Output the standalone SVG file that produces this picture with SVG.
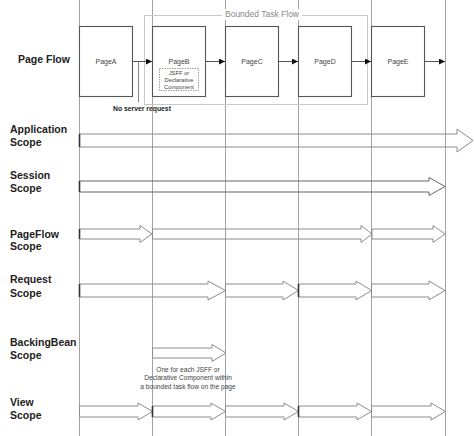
<svg xmlns="http://www.w3.org/2000/svg" width="474" height="436" viewBox="0 0 474 436">
<defs>
<style>
.vl{stroke:#a3a3a3;stroke-width:1;fill:none}
.arr{fill:none;stroke:#8c8c8c;stroke-width:1}
.tail{stroke:#333;stroke-width:1.6}
.lbl{font-family:"Liberation Sans",Arial,sans-serif;font-size:10.5px;font-weight:bold;fill:#222}
.page{fill:#fff;stroke:#555;stroke-width:1.1}
.ptxt{font-family:"Liberation Sans",Arial,sans-serif;font-size:7px;fill:#444;text-anchor:middle}
.small{font-family:"Liberation Sans",Arial,sans-serif;font-size:5.8px;fill:#444;text-anchor:middle}
.note{font-family:"Liberation Sans",Arial,sans-serif;font-size:6.6px;fill:#444;text-anchor:middle}
.conn{stroke:#555;stroke-width:1;fill:none}
</style>
<marker id="ah" viewBox="0 0 10 10" refX="10" refY="5" markerWidth="6" markerHeight="6" markerUnits="userSpaceOnUse" orient="auto">
<path d="M0,0 L10,5 L0,10 Z" fill="#111"/>
</marker>
</defs>
<rect width="474" height="436" fill="#fff"/>

<g id="grid">
<line class="vl" x1="79.5" y1="0" x2="79.5" y2="436"/>
<line class="vl" x1="152.5" y1="0" x2="152.5" y2="436"/>
<line class="vl" x1="225.5" y1="0" x2="225.5" y2="436"/>
<line class="vl" x1="298.5" y1="0" x2="298.5" y2="436"/>
<line class="vl" x1="371.5" y1="0" x2="371.5" y2="436"/>
<line class="vl" x1="445.5" y1="0" x2="445.5" y2="436"/>
</g>

<g id="bounded-task-flow">
<rect x="144.5" y="15.5" width="223" height="89" fill="none" stroke="#c8c8c8" stroke-width="1"/>
<rect x="222" y="9" width="80" height="11" fill="#fff"/>
<text x="262" y="17" font-family="'Liberation Sans',Arial,sans-serif" font-size="8.5" fill="#888" text-anchor="middle">Bounded Task Flow</text>
</g>

<g id="pageA">
<rect class="page" x="79.5" y="26.5" width="53" height="70"/>
<text class="ptxt" x="106" y="64">PageA</text>
</g>
<g id="pageB">
<rect class="page" x="152.5" y="26.5" width="53" height="70"/>
<text class="ptxt" x="179" y="64">PageB</text>
<rect x="159.5" y="68.5" width="39" height="22" fill="none" stroke="#888" stroke-width="0.8" stroke-dasharray="1.5,1"/>
<text class="small" x="179" y="74.8">JSFF or</text>
<text class="small" x="179" y="82">Declarative</text>
<text class="small" x="179" y="89.2">Component</text>
</g>
<g id="pageC">
<rect class="page" x="225.5" y="26.5" width="53" height="70"/>
<text class="ptxt" x="252" y="64">PageC</text>
</g>
<g id="pageD">
<rect class="page" x="298.5" y="26.5" width="53" height="70"/>
<text class="ptxt" x="325" y="64">PageD</text>
</g>
<g id="pageE">
<rect class="page" x="371.5" y="26.5" width="53" height="70"/>
<text class="ptxt" x="398" y="64">PageE</text>
</g>

<g id="connectors">
<line class="conn" x1="133" y1="61.5" x2="152" y2="61.5" marker-end="url(#ah)"/>
<line class="conn" x1="206" y1="61.5" x2="225" y2="61.5" marker-end="url(#ah)"/>
<line class="conn" x1="279" y1="61.5" x2="298" y2="61.5" marker-end="url(#ah)"/>
<line class="conn" x1="352" y1="61.5" x2="371" y2="61.5" marker-end="url(#ah)"/>
<line class="conn" x1="425" y1="61.5" x2="445" y2="61.5" marker-end="url(#ah)"/>
<line x1="138.5" y1="62" x2="138.5" y2="102" stroke="#888" stroke-width="1"/>
</g>

<g id="no-server-request">
<text x="142" y="110.5" font-family="'Liberation Sans',Arial,sans-serif" font-size="6.8" font-weight="bold" fill="#222" text-anchor="middle">No server request</text>
</g>

<g id="labels">
<text class="lbl" x="18" y="63">Page Flow</text>
<text class="lbl" x="10" y="133">Application</text>
<text class="lbl" x="10" y="146">Scope</text>
<text class="lbl" x="10" y="179">Session</text>
<text class="lbl" x="10" y="192">Scope</text>
<text class="lbl" x="10" y="237.5">PageFlow</text>
<text class="lbl" x="10" y="250">Scope</text>
<text class="lbl" x="10" y="283">Request</text>
<text class="lbl" x="10" y="296.5">Scope</text>
<text class="lbl" x="10" y="345.5">BackingBean</text>
<text class="lbl" x="10" y="359">Scope</text>
<text class="lbl" x="10" y="405.5">View</text>
<text class="lbl" x="10" y="419">Scope</text>
</g>

<g id="application-scope">
<path class="arr" d="M79.5,134 H457 V129 L473,140.5 L457,152 V147 H79.5 Z"/>
<line class="tail" x1="79.5" y1="134" x2="79.5" y2="147"/>
</g>

<g id="session-scope">
<path class="arr" style="stroke:#666" d="M79.5,181 H429 V177.5 L445,186.5 L429,195.5 V192 H79.5 Z"/>
<line class="tail" x1="79.5" y1="181" x2="79.5" y2="192"/>
</g>

<g id="pageflow-scope">
<path class="arr" d="M79.5,229 H140 V225.5 L152,234 L140,242.5 V239 H79.5 Z"/>
<path class="arr" d="M152.5,229 H361 V225.5 L372,234 L361,242.5 V239 H152.5 Z"/>
<path class="arr" d="M372,229 H433 V225.5 L445,234 L433,242.5 V239 H372 Z"/>
<line class="tail" x1="79.5" y1="229" x2="79.5" y2="239"/>
</g>

<g id="request-scope">
<path class="arr" d="M79.5,284 H208 V281 L225.5,290.5 L208,300 V297 H79.5 Z"/>
<path class="arr" d="M225.5,284 H283 V281 L298.5,290.5 L283,300 V297 H225.5 Z"/>
<path class="arr" d="M298.5,284 H356 V281 L371.5,290.5 L356,300 V297 H298.5 Z"/>
<path class="arr" d="M371.5,284 H429 V281 L445,290.5 L429,300 V297 H371.5 Z"/>
<line class="tail" x1="79.5" y1="284" x2="79.5" y2="297"/>
<line class="tail" x1="298.5" y1="284" x2="298.5" y2="297"/>
</g>

<g id="backingbean-scope">
<path class="arr" d="M152.5,348 H212 V344.5 L226,353 L212,361.5 V358 H152.5 Z"/>
<text class="note" x="188" y="372">One for each JSFF or</text>
<text class="note" x="188" y="380">Declarative Component within</text>
<text class="note" x="188" y="388.5">a bounded task flow on the page</text>
</g>

<g id="view-scope">
<path class="arr" d="M79.5,406 H138 V403 L152.5,411.5 L138,420 V417 H79.5 Z"/>
<path class="arr" d="M152.5,406 H211 V403 L225.5,411.5 L211,420 V417 H152.5 Z"/>
<path class="arr" d="M225.5,406 H284 V403 L298.5,411.5 L284,420 V417 H225.5 Z"/>
<path class="arr" d="M298.5,406 H357 V403 L371.5,411.5 L357,420 V417 H298.5 Z"/>
<path class="arr" d="M371.5,406 H431 V403 L445.5,411.5 L431,420 V417 H371.5 Z"/>
<line class="tail" x1="152.5" y1="406" x2="152.5" y2="417"/>
<line class="tail" x1="298.5" y1="406" x2="298.5" y2="417"/>
</g>
</svg>
